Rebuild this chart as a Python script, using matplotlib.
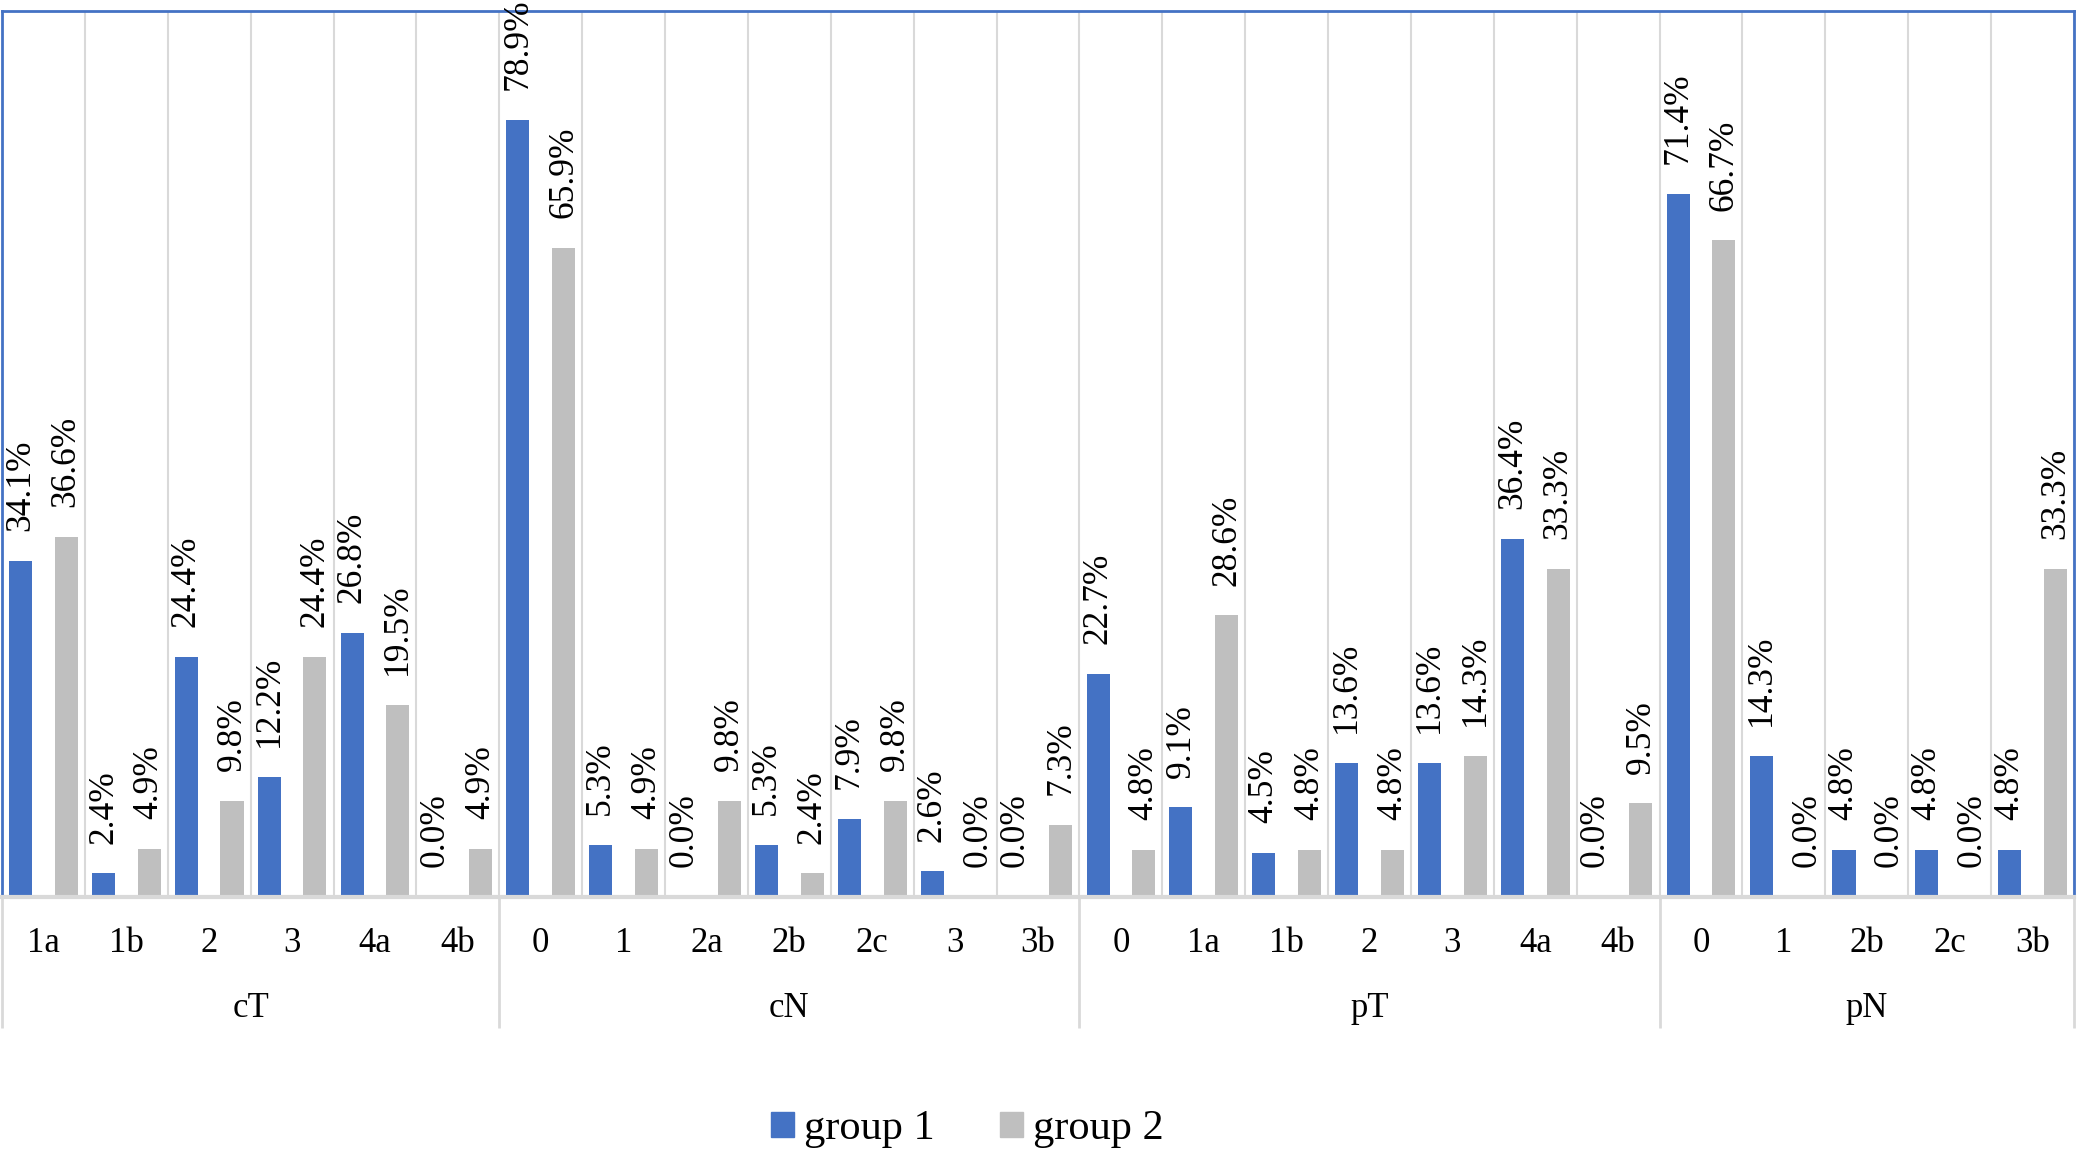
import numpy as np
import matplotlib
matplotlib.use("Agg")
import matplotlib.pyplot as plt
from matplotlib.patches import Patch

plt.rcParams['font.family'] = ['Liberation Serif', 'DejaVu Serif']

# data (percent)
groups = ['cT', 'cN', 'pT', 'pN']
cats = [
    ['1a', '1b', '2', '3', '4a', '4b'],
    ['0', '1', '2a', '2b', '2c', '3', '3b'],
    ['0', '1a', '1b', '2', '3', '4a', '4b'],
    ['0', '1', '2b', '2c', '3b'],
]
group1 = [34.1, 2.4, 24.4, 12.2, 26.8, 0.0,
          78.9, 5.3, 0.0, 5.3, 7.9, 2.6, 0.0,
          22.7, 9.1, 4.5, 13.6, 13.6, 36.4, 0.0,
          71.4, 14.3, 4.8, 4.8, 4.8]
group2 = [36.6, 4.9, 9.8, 24.4, 19.5, 4.9,
          65.9, 4.9, 9.8, 2.4, 9.8, 0.0, 7.3,
          4.8, 28.6, 4.8, 4.8, 14.3, 33.3, 9.5,
          66.7, 0.0, 0.0, 0.0, 33.3]

blue = '#4472C4'
grey = '#BFBFBF'
line_grey = '#D9D9D9'

labels = [c for cl in cats for c in cl]
n = len(labels)
x = np.arange(n)

fig = plt.figure(figsize=(20.79, 11.52), dpi=100)
ax = fig.add_axes([2 / 2079, 255 / 1152, 2072 / 2079, 886 / 1152])

w = 0.278
off = 0.275
b1 = ax.bar(x - off, group1, w, color=blue, zorder=2)
b2 = ax.bar(x + off, group2, w, color=grey, zorder=2)

# rotated value labels above each bar
for bars, vals in [(b1, group1), (b2, group2)]:
    for r, v in zip(bars, vals):
        ax.annotate(f'{v:.1f}%', (r.get_x() + r.get_width() / 2, v),
                    xytext=(0, 21.5), textcoords='offset points',
                    rotation=90, ha='center', va='bottom', fontsize=25.5,
                    annotation_clip=False)

ax.set_xlim(-0.5, n - 0.5)
ax.set_ylim(0, 90)

# gridlines between categories
ax.vlines(np.arange(n + 1) - 0.5, 0, 90, color=line_grey, lw=1.5, zorder=0)

ax.set_xticks([])
ax.set_yticks([])
for s in ['left', 'top', 'right']:
    ax.spines[s].set_color(blue)
    ax.spines[s].set_linewidth(2)
ax.spines['bottom'].set_color(line_grey)
ax.spines['bottom'].set_linewidth(3)

tr = ax.get_xaxis_transform()
for xi, lab in zip(x, labels):
    ax.text(xi, -55 / 886, lab, transform=tr, ha='center', va='baseline',
            fontsize=25)

# group labels and separators under the axis
sizes = [len(c) for c in cats]
edges = np.concatenate([[0], np.cumsum(sizes)])
for g, a, b in zip(groups, edges[:-1], edges[1:]):
    ax.text((a + b - 1) / 2, -120 / 886, g, transform=tr, ha='center',
            va='baseline', fontsize=25)
ax.vlines(edges - 0.5, -131 / 886, 0, transform=tr, color=line_grey,
          lw=2, clip_on=False)

handles = [Patch(color=blue, label='group 1'), Patch(color=grey, label='group 2')]
fig.legend(handles=handles, loc='center', bbox_to_anchor=(0.4654, 0.020),
           ncol=2, frameon=False, fontsize=30.5, handlelength=0.54,
           handleheight=0.54, handletextpad=0.24, columnspacing=1.54)

fig.savefig('out.png', dpi=100)
